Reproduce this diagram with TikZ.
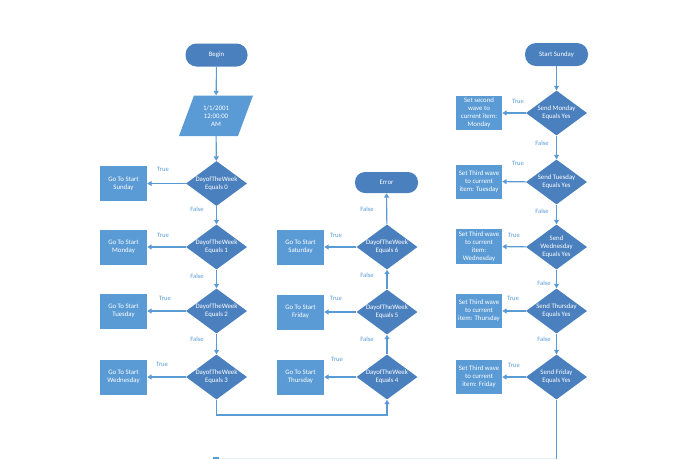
\documentclass[tikz,border=0pt]{standalone}
\usepackage{fontspec}
\setmainfont{Carlito}
\usetikzlibrary{shapes.geometric,arrows.meta}
\definecolor{dk}{HTML}{4A80BE}
\definecolor{lt}{HTML}{5B9BD5}
\definecolor{faint}{HTML}{E4EEF8}
\begin{document}
\begin{tikzpicture}[x=1pt,y=-1pt,
 term/.style={rectangle,rounded corners=11pt,fill=dk,minimum width=62pt,minimum height=23pt,text=white,inner sep=0pt,font=\fontsize{6.8}{8}\selectfont},
 dec/.style={diamond,fill=dk,minimum width=61pt,minimum height=45pt,inner sep=0pt},
 wtxt/.style={text=white,align=center,inner sep=0pt,font=\fontsize{6.8}{8}\selectfont},
 act/.style={rectangle,fill=lt,minimum width=47pt,minimum height=35pt,inner sep=0pt,text=white,align=center,font=\fontsize{6.8}{8}\selectfont},
 arr/.style={draw=lt,line width=1.1pt,-{Triangle[length=4.5pt,width=5pt]}},
 ln/.style={draw=lt,line width=1.1pt},
 lbl/.style={text=lt,inner sep=0pt,font=\fontsize{6.6}{8}\selectfont},
]
\useasboundingbox (0,0) rectangle (680,459);

% ---------- left column ----------
\node[term] (begin) at (216.5,55) {Begin};
\fill[lt] (179,136) -- (194,95.5) -- (253,95.5) -- (238,136) -- cycle;
\node[rectangle,minimum width=59pt,minimum height=40.5pt,inner sep=0pt] (para) at (216,115.75) {};
\node[wtxt] (paratxt) at (para) {1/1/2001\\12:00:00\\AM};

\node[dec] (d0) at (216.5,183.5) {};
\node[wtxt] (t0) at (d0) {DayofTheWeek\\Equals 0};
\node[dec] (d1) at (216.5,247) {};
\node[wtxt] (t1) at (d1) {DayofTheWeek\\Equals 1};
\node[dec] (d2) at (216.5,311) {};
\node[wtxt] (t2) at (d2) {DayofTheWeek\\Equals 2};
\node[dec] (d3) at (216.5,377) {};
\node[wtxt] (t3) at (d3) {DayofTheWeek\\Equals 3};

\node[act] (b0) at (123.5,183.5) {Go To Start\\Sunday};
\node[act] (b1) at (123.5,247) {Go To Start\\Monday};
\node[act] (b2) at (123.5,311) {Go To Start\\Tuesday};
\node[act] (b3) at (123.5,377) {Go To Start\\Wednesday};

% ---------- middle column ----------
\node[term,minimum width=63pt,minimum height=21pt,rounded corners=10pt] (err) at (386.5,182.5) {Error};
\node[dec] (d6) at (387,247) {};
\node[wtxt] (t6) at (d6) {DayofTheWeek\\Equals 6};
\node[dec] (d5) at (387,312) {};
\node[wtxt] (t5) at (d5) {DayofTheWeek\\Equals 5};
\node[dec] (d4) at (387,377) {};
\node[wtxt] (t4) at (d4) {DayofTheWeek\\Equals 4};

\node[act] (b6) at (300.5,247) {Go To Start\\Saturday};
\node[act] (b5) at (300.5,312) {Go To Start\\Friday};
\node[act] (b4) at (300.5,377) {Go To Start\\Thursday};

% ---------- right column ----------
\node[term,minimum width=63pt] (ss) at (556.5,54.5) {Start Sunday};
\node[dec] (r1) at (556.5,113) {};
\node[wtxt] (rt1) at (r1) {Send Monday\\Equals Yes};
\node[dec] (r2) at (556.5,182) {};
\node[wtxt] (rt2) at (r2) {Send Tuesday\\Equals Yes};
\node[dec] (r3) at (556.5,247) {};
\node[wtxt] (rt3) at (r3) {Send\\Wednesday\\Equals Yes};
\node[dec] (r4) at (556.5,311) {};
\node[wtxt] (rt4) at (r4) {Send Thursday\\Equals Yes};
\node[dec] (r5) at (556.5,377) {};
\node[wtxt] (rt5) at (r5) {Send Friday\\Equals Yes};

\node[act,minimum width=46pt,minimum height=34pt] (s1) at (479,113) {Set second\\wave to\\current item:\\Monday};
\node[act,minimum width=46pt,minimum height=34pt] (s2) at (479,181.5) {Set Third wave\\to current\\item: Tuesday};
\node[act,minimum width=46pt,minimum height=35pt] (s3) at (479,246.5) {Set Third wave\\to current\\item:\\Wednesday};
\node[act,minimum width=46pt,minimum height=34pt] (s4) at (479,311) {Set Third wave\\to current\\item: Thursday};
\node[act,minimum width=46pt,minimum height=34pt] (s5) at (479,377) {Set Third wave\\to current\\item: Friday};

% ---------- connectors ----------
\draw[arr] (begin) -- (para);
\draw[arr] (para) -- (d0);
\draw[arr] (d0) -- (d1);
\draw[arr] (d1) -- (d2);
\draw[arr] (d2) -- (d3);
\draw[arr] (d0) -- (b0);
\draw[arr] (d1) -- (b1);
\draw[arr] (d2) -- (b2);
\draw[arr] (d3) -- (b3);
\coordinate (c1) at (216.5,415);
\coordinate (c2) at (387,415);
\draw[arr] (d3.south) -- (c1) -- (c2) -- (d4.south);
\draw[arr] (d4) -- (d5);
\draw[arr] (d5) -- (d6);
\draw[arr] (d6) -- (err);
\draw[arr] (d4) -- (b4);
\draw[arr] (d5) -- (b5);
\draw[arr] (d6) -- (b6);

\draw[arr] (ss) -- (r1);
\draw[arr] (r1) -- (r2);
\draw[arr] (r2) -- (r3);
\draw[arr] (r3) -- (r4);
\draw[arr] (r4) -- (r5);
\draw[arr] (r1) -- (s1);
\draw[arr] (r2) -- (s2);
\draw[arr] (r3) -- (s3);
\draw[arr] (r4) -- (s4);
\draw[arr] (r5) -- (s5);
\coordinate (c3) at (556.5,459);
\draw[ln] (r5.south) -- (c3);
\coordinate (c4) at (215,458);
\coordinate (c5) at (556,458);
\draw[faint,line width=1pt] (c4) -- (c5);
\coordinate (c6) at (213,458);
\coordinate (c7) at (219,458);
\draw[lt,line width=1.4pt] (c6) -- (c7);

% ---------- labels ----------
\node[lbl] (lt0) at (163,169) {True};
\node[lbl] (lt1) at (163,235) {True};
\node[lbl] (lt2) at (165,298) {True};
\node[lbl] (lt3) at (162,364) {True};
\node[lbl] (lf0) at (197,209) {False};
\node[lbl] (lf1) at (197,276) {False};
\node[lbl] (lf2) at (197,339) {False};

\node[lbl] (mt6) at (336,235) {True};
\node[lbl] (mt5) at (336,298) {True};
\node[lbl] (mt4) at (337,359) {True};
\node[lbl] (mf6) at (367,209) {False};
\node[lbl] (mf5) at (367,275) {False};
\node[lbl] (mf4) at (367,339) {False};

\node[lbl] (rt1l) at (518,101) {True};
\node[lbl] (rt2l) at (518,163) {True};
\node[lbl] (rt3l) at (514,235) {True};
\node[lbl] (rt4l) at (513,298) {True};
\node[lbl] (rt5l) at (514,365) {True};
\node[lbl] (rf1) at (542,143) {False};
\node[lbl] (rf2) at (542,211) {False};
\node[lbl] (rf3) at (544,283) {False};
\node[lbl] (rf4) at (544,339) {False};
\end{tikzpicture}
\end{document}
